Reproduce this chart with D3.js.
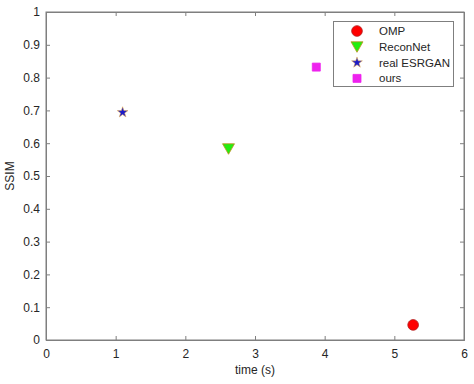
<!DOCTYPE html>
<html><head><meta charset="utf-8">
<script src="https://cdn.jsdelivr.net/npm/d3@7"></script>
<style>body{margin:0;background:#fff}svg{display:block}text{font-family:"Liberation Sans",Arial,sans-serif;fill:#262626}</style>
</head><body>
<svg id="c" width="474" height="384"></svg>
<script>
const methods = ["OMP", "ReconNet", "real ESRGAN", "ours"];
const times = [5.27, 2.62, 1.10, 3.88];
const ssim = [0.046, 0.583, 0.694, 0.832];
const xTicks = [0, 1, 2, 3, 4, 5, 6];
const yTicks = [0, 0.1, 0.2, 0.3, 0.4, 0.5, 0.6, 0.7, 0.8, 0.9, 1];
const fills = ["#ff0000", "#22ee11", "#1c1cc8", "#ee22ee"];
const strokes = ["#b02020", "#c09020", "#f0b040", "#ee22ee"];
const strokeW = [0.8, 0.8, 0.5, 0.8];
const shapes = [d3.symbolCircle, "tri", d3.symbolStar, d3.symbolSquare];
const sizes = [90, 0, 36, 64];

const svg = d3.select("#c");
const L = 46, R = 464, T = 12, B = 340;
const x = d3.scaleLinear().domain([0, 6]).range([L, R]);
const y = d3.scaleLinear().domain([0, 1]).range([B, T]);
const axisCol = "#7f7f7f";

svg.append("rect").attr("x", L).attr("y", T).attr("width", R - L).attr("height", B - T)
  .attr("fill", "none").attr("stroke", axisCol).attr("stroke-width", 1);

const gx = svg.append("g").attr("transform", `translate(0,${B})`)
  .call(d3.axisBottom(x).tickValues(xTicks).tickSize(-4).tickPadding(9).tickFormat(d3.format("d")));
const gxt = svg.append("g").attr("transform", `translate(0,${T})`)
  .call(d3.axisTop(x).tickValues(xTicks).tickSize(-4).tickFormat(""));
const gy = svg.append("g").attr("transform", `translate(${L},0)`)
  .call(d3.axisLeft(y).tickValues(yTicks).tickSize(-4).tickPadding(6).tickFormat(d => d3.format("")(+d.toFixed(1))));
const gyr = svg.append("g").attr("transform", `translate(${R},0)`)
  .call(d3.axisRight(y).tickValues(yTicks).tickSize(-4).tickFormat(""));
[gx, gxt, gy, gyr].forEach(g => {
  g.select(".domain").attr("stroke", axisCol);
  g.selectAll(".tick line").attr("stroke", axisCol);
  g.selectAll(".tick text").attr("font-size", 12).attr("fill", "#262626")
    .attr("font-family", "'Liberation Sans',Arial,sans-serif");
});

svg.append("text").attr("x", (L + R) / 2).attr("y", 374).attr("text-anchor", "middle")
  .attr("font-size", 12).text("time (s)");
svg.append("text").attr("transform", `translate(14,${(T + B) / 2}) rotate(-90)`)
  .attr("text-anchor", "middle").attr("font-size", 12).text("SSIM");

function marker(g, i, cx, cy) {
  if (shapes[i] === "tri") {
    g.append("path").attr("d", `M${cx - 6},${cy - 5}L${cx + 6},${cy - 5}L${cx},${cy + 5.5}Z`)
      .attr("fill", fills[i]).attr("stroke", strokes[i]).attr("stroke-width", strokeW[i]);
  } else {
    g.append("path").attr("d", d3.symbol().type(shapes[i]).size(sizes[i])())
      .attr("transform", `translate(${cx},${cy})`)
      .attr("fill", fills[i]).attr("stroke", strokes[i]).attr("stroke-width", strokeW[i]);
  }
}

const pts = svg.append("g");
methods.forEach((m, i) => marker(pts, i, x(times[i]), y(ssim[i])));

const lg = svg.append("g");
lg.append("rect").attr("x", 333.5).attr("y", 21.5).attr("width", 120).attr("height", 65)
  .attr("fill", "#fff").attr("stroke", axisCol);
methods.forEach((m, i) => {
  const cy = 31 + i * 15.8;
  marker(lg, i, 357, cy);
  lg.append("text").attr("x", 379).attr("y", cy + 4).attr("font-size", 11.5).text(m);
});
</script>
</body></html>
